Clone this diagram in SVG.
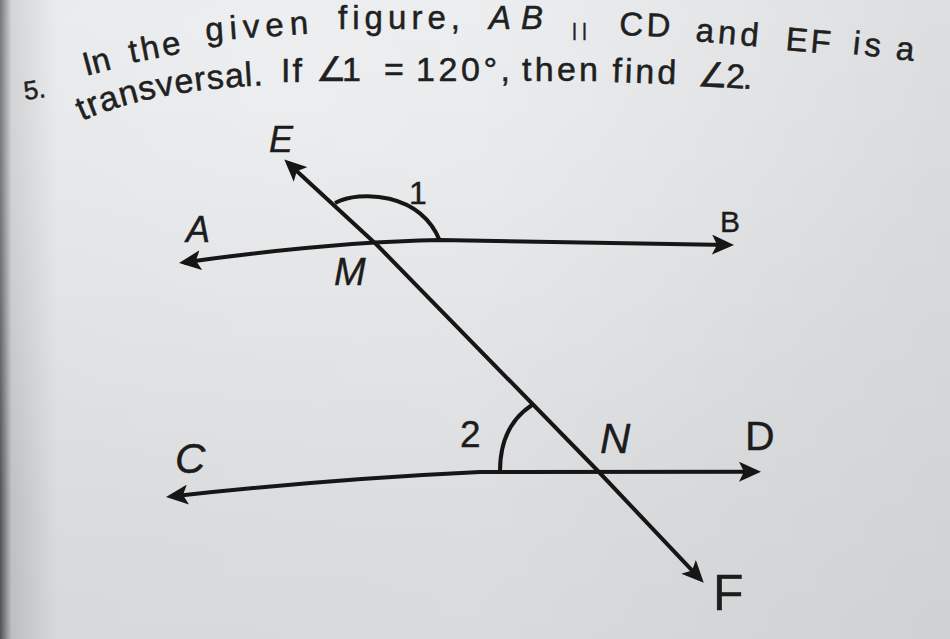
<svg xmlns="http://www.w3.org/2000/svg" width="950" height="639" viewBox="0 0 950 639">
<defs>
<linearGradient id="bgx" x1="0" y1="0" x2="1" y2="0">
<stop offset="0" stop-color="#55575a"/>
<stop offset="0.012" stop-color="#c8cacc"/>
<stop offset="0.06" stop-color="#e4e6e8"/>
<stop offset="0.5" stop-color="#e6e8ea"/>
<stop offset="1" stop-color="#dcdee0"/>
</linearGradient>
<radialGradient id="hl" cx="0.3" cy="0.15" r="0.7">
<stop offset="0" stop-color="#ffffff" stop-opacity="0.35"/>
<stop offset="1" stop-color="#ffffff" stop-opacity="0"/>
</radialGradient>
<linearGradient id="bgy" x1="0" y1="0" x2="0" y2="1">
<stop offset="0" stop-color="#000" stop-opacity="0"/>
<stop offset="1" stop-color="#000" stop-opacity="0.06"/>
</linearGradient>
<marker id="arr" viewBox="0 0 22 20" markerWidth="22" markerHeight="20" refX="17" refY="10" markerUnits="userSpaceOnUse" orient="auto-start-reverse">
<path d="M0,0 L22,10 L0,20 L5,10 z" fill="#161616"/>
</marker>
<style>
.q{font-family:"Liberation Sans",Arial,"DejaVu Sans",sans-serif;fill:#202020;stroke:#202020;stroke-width:0.5px;}
.l1{font-size:33px;}
.l2{font-size:34px;}
.lab{font-family:"Liberation Sans",Arial,sans-serif;fill:#1c1c1c;stroke:#1c1c1c;stroke-width:0.4px;}
.it{font-style:italic;}
.ln{fill:none;stroke:#161616;stroke-width:4;stroke-linecap:butt;stroke-linejoin:round;}
.arc{fill:none;stroke:#161616;stroke-width:4;}
</style>
</defs>
<rect width="950" height="639" fill="url(#bgx)"/>
<rect width="950" height="639" fill="url(#hl)"/>
<rect width="950" height="639" fill="url(#bgy)"/>

<g id="question">
<text class="q" x="25" y="100" font-size="26" fill="#444" transform="rotate(-8 25 100)">5.</text>
<text class="q l1" x="86" y="76" font-size="34" transform="rotate(-15 86 76)">In</text>
<text class="q l1" x="131" y="63" font-size="34" textLength="52" lengthAdjust="spacing" transform="rotate(-11 131 63)">the</text>
<text class="q l1" x="206" y="41" font-size="35" textLength="103" lengthAdjust="spacing" transform="rotate(-4 206 41)">given</text>
<text class="q l1" x="338" y="29" textLength="122" lengthAdjust="spacing">figure,</text>
<text class="q l1 it" x="489" y="29" font-size="31" textLength="54" lengthAdjust="spacing">AB</text>
<text class="q" x="572" y="36" font-size="19" textLength="15" lengthAdjust="spacing">||</text>
<text class="q l1" x="619" y="35" font-size="32" textLength="51" lengthAdjust="spacing" transform="rotate(2 619 35)">CD</text>
<text class="q l1" x="695" y="41" textLength="63" lengthAdjust="spacing" transform="rotate(5 695 41)">and</text>
<text class="q l1" x="785" y="50" font-size="32" textLength="45" lengthAdjust="spacing" transform="rotate(5 785 50)">EF</text>
<text class="q l1" x="852" y="54" font-size="32" textLength="28" lengthAdjust="spacing" transform="rotate(6 852 54)">is</text>
<text class="q l1" x="895" y="59" font-size="32" transform="rotate(6 895 59)">a</text>

<path id="tpath" d="M 82 121 Q 150 90 268 85" fill="none"/>
<text class="q l2"><textPath href="#tpath" textLength="186" lengthAdjust="spacing">transversal.</textPath></text>
<text class="q l2" x="281" y="82" font-size="35" textLength="21" lengthAdjust="spacing">If</text>
<text class="q l2" x="316" y="81" textLength="45" lengthAdjust="spacing">∠1</text>
<text class="q l2" x="384" y="81">=</text>
<text class="q l2" x="416" y="81" textLength="94" lengthAdjust="spacing">120°,</text>
<text class="q l2" x="522" y="81" textLength="76" lengthAdjust="spacing">then</text>
<text class="q l2" x="612" y="82" textLength="64" lengthAdjust="spacing" transform="rotate(2 612 82)">find</text>
<text class="q l2" x="697" y="86" textLength="55" lengthAdjust="spacing" transform="rotate(3 697 86)">∠2.</text>
</g>

<g id="connectors">
<path id="line-AB" class="ln" d="M 184 262.4 Q 330 242 440 240 L 729 244.9" marker-start="url(#arr)" marker-end="url(#arr)"/>
<path id="line-CD" class="ln" d="M 171 496.4 Q 330 479 480 472 L 756 471.7" marker-start="url(#arr)" marker-end="url(#arr)"/>
<path id="line-EF" class="ln" d="M 288 163 L 377 245 L 597 470 L 700.3 579.1" marker-start="url(#arr)" marker-end="url(#arr)"/>
<path id="angle-1" class="arc" d="M 335 203 C 360 190 420 192 440 241"/>
<path id="angle-2" class="arc" d="M 532 405 C 512 418 500 440 500 471"/>
</g>

<g id="node-E"><text class="lab it" x="269" y="152" font-size="36">E</text></g>
<g id="node-A"><text class="lab it" x="186" y="242" font-size="36">A</text></g>
<g id="node-M"><text class="lab it" x="334" y="285" font-size="38">M</text></g>
<g id="node-1"><text class="lab" x="409" y="204" font-size="32">1</text></g>
<g id="node-B"><text class="lab" x="720" y="232" font-size="30">B</text></g>
<g id="node-C"><text class="lab it" x="175" y="473" font-size="42">C</text></g>
<g id="node-2"><text class="lab" x="460" y="447" font-size="37">2</text></g>
<g id="node-N"><text class="lab it" x="600" y="453" font-size="42">N</text></g>
<g id="node-D"><text class="lab" x="745" y="450" font-size="41">D</text></g>
<g id="node-F"><text class="lab" x="713" y="610" font-size="50">F</text></g>
</svg>
